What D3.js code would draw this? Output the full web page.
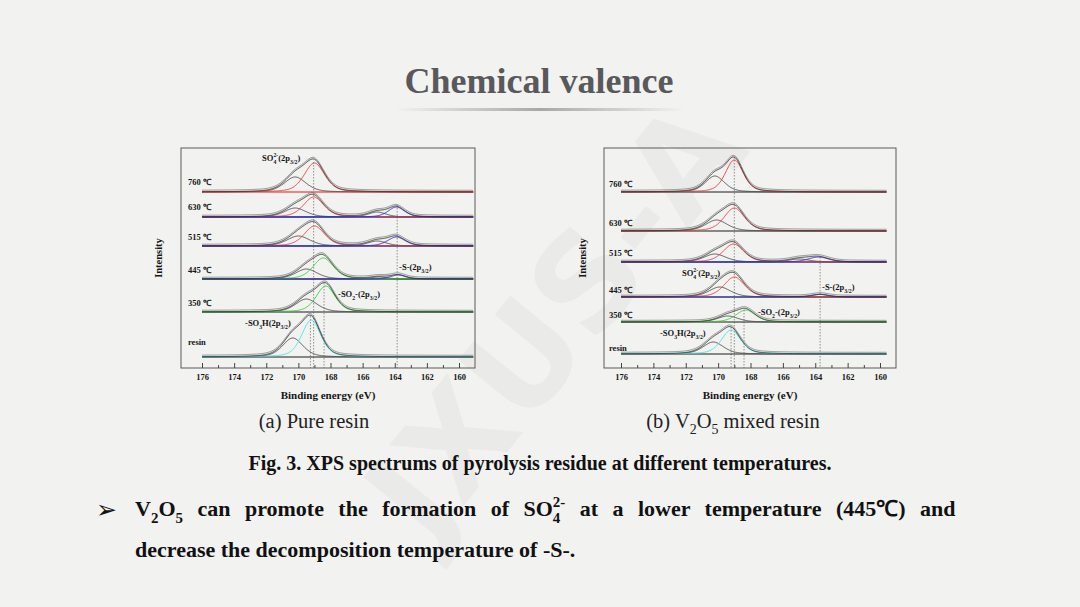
<!DOCTYPE html>
<html>
<head>
<meta charset="utf-8">
<script src="https://cdn.jsdelivr.net/npm/d3@7"></script>
<style>
  html, body { margin: 0; padding: 0; background: #f2f2f1; }
  svg { display: block; }
</style>
</head>
<body>
<div id="slide"></div>
<script>
// ---------- data ----------
const energyTicks = [176, 174, 172, 170, 168, 166, 164, 162, 160];
const minorTicks = [175, 173, 171, 169, 167, 165, 163, 161];
const rowLabels = ["760 ℃", "630 ℃", "515 ℃", "445 ℃", "350 ℃", "resin"];

// vertical offset of each spectrum (intensity units, top row first)
const offsetsA = [176, 151, 122, 89, 56, 11];
const offsetsB = [176, 137, 106, 71, 46, 14];

// fitted components: e = peak position (eV), h = height, w = FWHM (eV), s = species
const peaksA = [
  [{ e: 169.0, h: 29, w: 1.5, s: "SO4" }, { e: 170.2, h: 15, w: 1.6, s: "p12" }],
  [{ e: 169.05, h: 20, w: 1.5, s: "SO4" }, { e: 170.2, h: 9, w: 1.6, s: "p12" },
   { e: 163.9, h: 10, w: 1.2, s: "S" }, { e: 165.1, h: 5, w: 1.3, s: "p12" }],
  [{ e: 169.0, h: 20, w: 1.5, s: "SO4" }, { e: 170.0, h: 10, w: 1.7, s: "p12" },
   { e: 163.9, h: 9, w: 1.3, s: "S" }, { e: 165.1, h: 5, w: 1.4, s: "p12" }],
  [{ e: 168.45, h: 21, w: 1.5, s: "SO2" }, { e: 169.5, h: 10, w: 1.6, s: "p12" },
   { e: 163.8, h: 4, w: 1.1, s: "S" }, { e: 165.0, h: 2, w: 1.2, s: "p12" }],
  [{ e: 168.3, h: 26, w: 1.4, s: "SO2" }, { e: 169.5, h: 13, w: 1.6, s: "p12" }],
  [{ e: 169.2, h: 37, w: 1.4, s: "SO3H" }, { e: 170.35, h: 19, w: 1.5, s: "p12" }]
];
const peaksB = [
  [{ e: 169.0, h: 32, w: 1.3, s: "SO4" }, { e: 170.2, h: 16, w: 1.4, s: "p12" }],
  [{ e: 169.0, h: 23, w: 1.5, s: "SO4" }, { e: 170.1, h: 11, w: 1.6, s: "p12" }],
  [{ e: 169.05, h: 18, w: 1.5, s: "SO4" }, { e: 170.2, h: 8, w: 1.6, s: "p12" },
   { e: 163.8, h: 5, w: 1.5, s: "S" }, { e: 165.0, h: 3, w: 1.5, s: "p12" }],
  [{ e: 169.0, h: 20, w: 1.5, s: "SO4" }, { e: 169.9, h: 10, w: 1.6, s: "p12" },
   { e: 163.7, h: 2.5, w: 1.2, s: "S" }],
  [{ e: 168.3, h: 12, w: 1.4, s: "SO2" }, { e: 169.4, h: 6, w: 1.5, s: "p12" }],
  [{ e: 169.2, h: 24, w: 1.4, s: "SO3H" }, { e: 170.3, h: 12, w: 1.5, s: "p12" }]
];

// species whose background line lies on top of each baseline
const baseKindA = ["SO4", "S", "S", "p12", "p12", "p12"];
const baseKindB = ["p12", "p12", "S", "p12", "p12", "p12"];

// dotted reference lines: energy and top intensity
const guidesA = [{ e: 169.05, top: 206 }, { e: 169.25, top: 52 }, { e: 168.4, top: 85 }, { e: 163.85, top: 163 }];
const guidesB = [{ e: 169.0, top: 211 }, { e: 169.2, top: 41 }, { e: 168.4, top: 58 }, { e: 163.7, top: 111 }];

// peak annotations (energy of left edge, intensity of baseline)
const notesA = [
  { e: 172.26, i: 207, k: "SO4" }, { e: 163.73, i: 98, k: "S" },
  { e: 167.53, i: 71, k: "SO2" }, { e: 173.32, i: 42, k: "SO3H" }
];
const notesB = [
  { e: 172.23, i: 92, k: "SO4" }, { e: 163.58, i: 78, k: "S" },
  { e: 167.54, i: 53, k: "SO2" }, { e: 173.59, i: 32, k: "SO3H" }
];

// ---------- styles ----------
const colors = { SO4: "#ee3a3a", S: "#2a2ad4", SO2: "#2ed12e", SO3H: "#3fe4ec", p12: "#4a4a4a" };
const serif = "'Liberation Serif', 'Times New Roman', serif";
const noteParts = {
  SO4: [["SO", "n"], ["4", "sub"], ["2-", "sup"], ["(2p", "n"], ["3/2", "sub"], [")", "n"]],
  S: [["-S-(2p", "n"], ["3/2", "sub"], [")", "n"]],
  SO2: [["-SO", "n"], ["2", "sub"], ["-(2p", "n"], ["3/2", "sub"], [")", "n"]],
  SO3H: [["-SO", "n"], ["3", "sub"], ["H(2p", "n"], ["3/2", "sub"], [")", "n"]]
};

const W = 1080, H = 607;
const svg = d3.select("#slide").append("svg")
  .attr("width", W).attr("height", H)
  .style("font-family", serif);

svg.append("rect").attr("width", W).attr("height", H).attr("fill", "#f2f2f1");

// faint diagonal watermark
svg.append("text")
  .attr("transform", "translate(555,320) rotate(-51)")
  .attr("text-anchor", "middle").attr("dy", "0.35em")
  .style("font-family", "'DejaVu Sans', sans-serif")
  .style("font-size", "132px").style("font-weight", "bold")
  .attr("fill", "#000").attr("fill-opacity", 0.033)
  .text("JXUS-A");

// writes text with sub / superscripts as tspans (a superscript after a subscript is stacked over it)
function rich(sel, parts, size) {
  let cur = 0, prev = null;
  parts.forEach(([t, k]) => {
    const target = k === "sub" ? size * 0.3 : k === "sup" ? -size * 0.42 : 0;
    const ts = sel.append("tspan")
      .attr("dy", target - cur)
      .style("font-size", k === "n" ? size + "px" : (size * 0.68) + "px")
      .text(t);
    if (k === "sup" && prev && prev[1] === "sub") ts.attr("dx", -prev[0].length * size * 0.34);
    cur = target;
    prev = [t, k];
  });
}

// pseudo-Voigt peak shape of one fitted component
function peak(x, p) {
  const t = (x - p.e) / p.w;
  return p.h * (0.4 / (1 + 4 * t * t) + 0.6 * Math.exp(-2.7726 * t * t));
}

// ---------- title ----------
svg.append("text")
  .attr("x", 539).attr("y", 93)
  .attr("text-anchor", "middle")
  .style("font-size", "36px").style("font-weight", "bold")
  .attr("fill", "#59595b")
  .text("Chemical valence");

const defs = svg.append("defs");
const lg = defs.append("linearGradient").attr("id", "rule");
lg.append("stop").attr("offset", "0%").attr("stop-color", "#888").attr("stop-opacity", 0);
lg.append("stop").attr("offset", "50%").attr("stop-color", "#888").attr("stop-opacity", 0.7);
lg.append("stop").attr("offset", "100%").attr("stop-color", "#888").attr("stop-opacity", 0);
svg.append("rect").attr("x", 395).attr("y", 108).attr("width", 290).attr("height", 3)
  .attr("fill", "url(#rule)");

// ---------- panels ----------
const panels = [
  { left: 181, right: 475, x0: 202, x1: 459, eMax: 159.1, offsets: offsetsA, peaks: peaksA,
    base: baseKindA, guides: guidesA, notes: notesA, lift: [7, 7, 6, 6, 6, 12], labelX: 188, ytitleX: 158 },
  { left: 604, right: 896, x0: 621, x1: 880, eMax: 159.6, offsets: offsetsB, peaks: peaksB,
    base: baseKindB, guides: guidesB, notes: notesB, lift: [5, 5, 6, 4, 4, 3], labelX: 609, ytitleX: 582 }
];
const plotTop = 148, plotBottom = 368;

panels.forEach(p => {
  const g = svg.append("g");
  const x = d3.scaleLinear().domain([176, 160]).range([p.x0, p.x1]);
  const y = d3.scaleLinear().domain([0, 220]).range([plotBottom, plotTop]);
  const grid = d3.range(176, p.eMax, -0.04);

  // dotted guide lines
  g.selectAll(".guide").data(p.guides).enter().append("line")
    .attr("x1", d => x(d.e)).attr("x2", d => x(d.e))
    .attr("y1", d => y(d.top)).attr("y2", plotBottom)
    .attr("stroke", "#777").attr("stroke-width", 0.8)
    .attr("stroke-dasharray", "1.5,1.5");

  p.offsets.forEach((off, r) => {
    const row = g.append("g");
    // baseline
    row.append("line")
      .attr("x1", x(176)).attr("x2", x(p.eMax))
      .attr("y1", y(off)).attr("y2", y(off))
      .attr("stroke", colors[p.base[r]]).attr("stroke-width", 1.4)
      .attr("stroke-opacity", p.base[r] === "p12" ? 0.85 : 0.8);

    // components: black doublet partners first, coloured main peaks on top
    const comps = p.peaks[r].slice().sort((a, b) => (a.s === "p12" ? 0 : 1) - (b.s === "p12" ? 0 : 1));
    comps.forEach(c => {
      row.append("path")
        .datum(grid)
        .attr("fill", "none")
        .attr("stroke", colors[c.s])
        .attr("stroke-width", 0.9)
        .attr("d", d3.line().x(e => x(e)).y(e => y(off + peak(e, c))));
    });

    // envelope (fit and measured trace)
    const env = d3.line().x(e => x(e)).y(e => y(off + d3.sum(p.peaks[r], c => peak(e, c))));
    row.append("path").datum(grid).attr("fill", "none")
      .attr("stroke", "#777").attr("stroke-width", 0.8)
      .attr("transform", "translate(0,-1.6)").attr("d", env);
    row.append("path").datum(grid).attr("fill", "none")
      .attr("stroke", "#333").attr("stroke-width", 0.9).attr("d", env);

    // row label
    row.append("text")
      .attr("x", p.labelX).attr("y", y(off) - p.lift[r])
      .style("font-size", "8.5px").style("font-weight", "bold")
      .attr("fill", "#151515")
      .text(rowLabels[r]);
  });

  // peak annotations
  p.notes.forEach(n => {
    const t = g.append("text")
      .attr("x", x(n.e)).attr("y", y(n.i))
      .style("font-weight", "bold").attr("fill", "#151515");
    rich(t, noteParts[n.k], 8.5);
  });

  // frame
  g.append("rect")
    .attr("x", p.left).attr("y", plotTop)
    .attr("width", p.right - p.left).attr("height", plotBottom - plotTop)
    .attr("fill", "none").attr("stroke", "#5a5a5a").attr("stroke-width", 1);

  // inward ticks
  g.append("g").attr("transform", `translate(0,${plotBottom})`)
    .call(d3.axisBottom(x).tickValues(minorTicks).tickSize(-3).tickFormat(""))
    .call(a => a.select(".domain").remove())
    .selectAll("line").attr("stroke", "#444");
  const ax = g.append("g").attr("transform", `translate(0,${plotBottom})`)
    .call(d3.axisBottom(x).tickValues(energyTicks).tickSize(-5).tickPadding(6))
    .call(a => a.select(".domain").remove());
  ax.selectAll("line").attr("stroke", "#444");
  ax.selectAll("text")
    .style("font-family", serif).style("font-size", "8.5px").style("font-weight", "bold")
    .attr("fill", "#151515");

  // axis titles
  g.append("text")
    .attr("x", (p.left + p.right) / 2).attr("y", 399)
    .attr("text-anchor", "middle")
    .style("font-size", "11px").style("font-weight", "bold").attr("fill", "#151515")
    .text("Binding energy (eV)");
  g.append("text")
    .attr("transform", `translate(${p.ytitleX},258) rotate(-90)`)
    .attr("text-anchor", "middle").attr("dy", "0.35em")
    .style("font-size", "10.5px").style("font-weight", "bold").attr("fill", "#151515")
    .text("Intensity");
});

// ---------- captions ----------
svg.append("text").attr("x", 314).attr("y", 428).attr("text-anchor", "middle")
  .style("font-size", "20.5px").attr("fill", "#222")
  .text("(a) Pure resin");
const capB = svg.append("text").attr("x", 733).attr("y", 428).attr("text-anchor", "middle")
  .attr("fill", "#222");
rich(capB, [["(b) V", "n"], ["2", "sub"], ["O", "n"], ["5", "sub"], [" mixed resin", "n"]], 20.5);

svg.append("text").attr("x", 540).attr("y", 470).attr("text-anchor", "middle")
  .style("font-size", "20px").style("font-weight", "bold").attr("fill", "#111")
  .text("Fig. 3. XPS spectrums of pyrolysis residue at different temperatures.");

// ---------- bullet text ----------
svg.append("text").attr("x", 96).attr("y", 518)
  .style("font-family", "'DejaVu Sans', sans-serif").style("font-size", "25px").attr("fill", "#111")
  .text("➢");

const line1 = svg.append("text").attr("x", 135).attr("y", 516)
  .style("font-weight", "bold").attr("fill", "#111");
rich(line1, [["V", "n"], ["2", "sub"], ["O", "n"], ["5", "sub"],
  [" can promote the formation of SO", "n"], ["4", "sub"], ["2-", "sup"],
  [" at a lower temperature (445℃) and", "n"]], 22);
// justify the first line to the text block width
const natural = line1.node().getComputedTextLength();
line1.attr("word-spacing", ((963 - 135) - natural) / 12 + "px");

svg.append("text").attr("x", 135).attr("y", 557)
  .style("font-size", "22px").style("font-weight", "bold").attr("fill", "#111")
  .text("decrease the decomposition temperature of -S-.");
</script>
</body>
</html>
